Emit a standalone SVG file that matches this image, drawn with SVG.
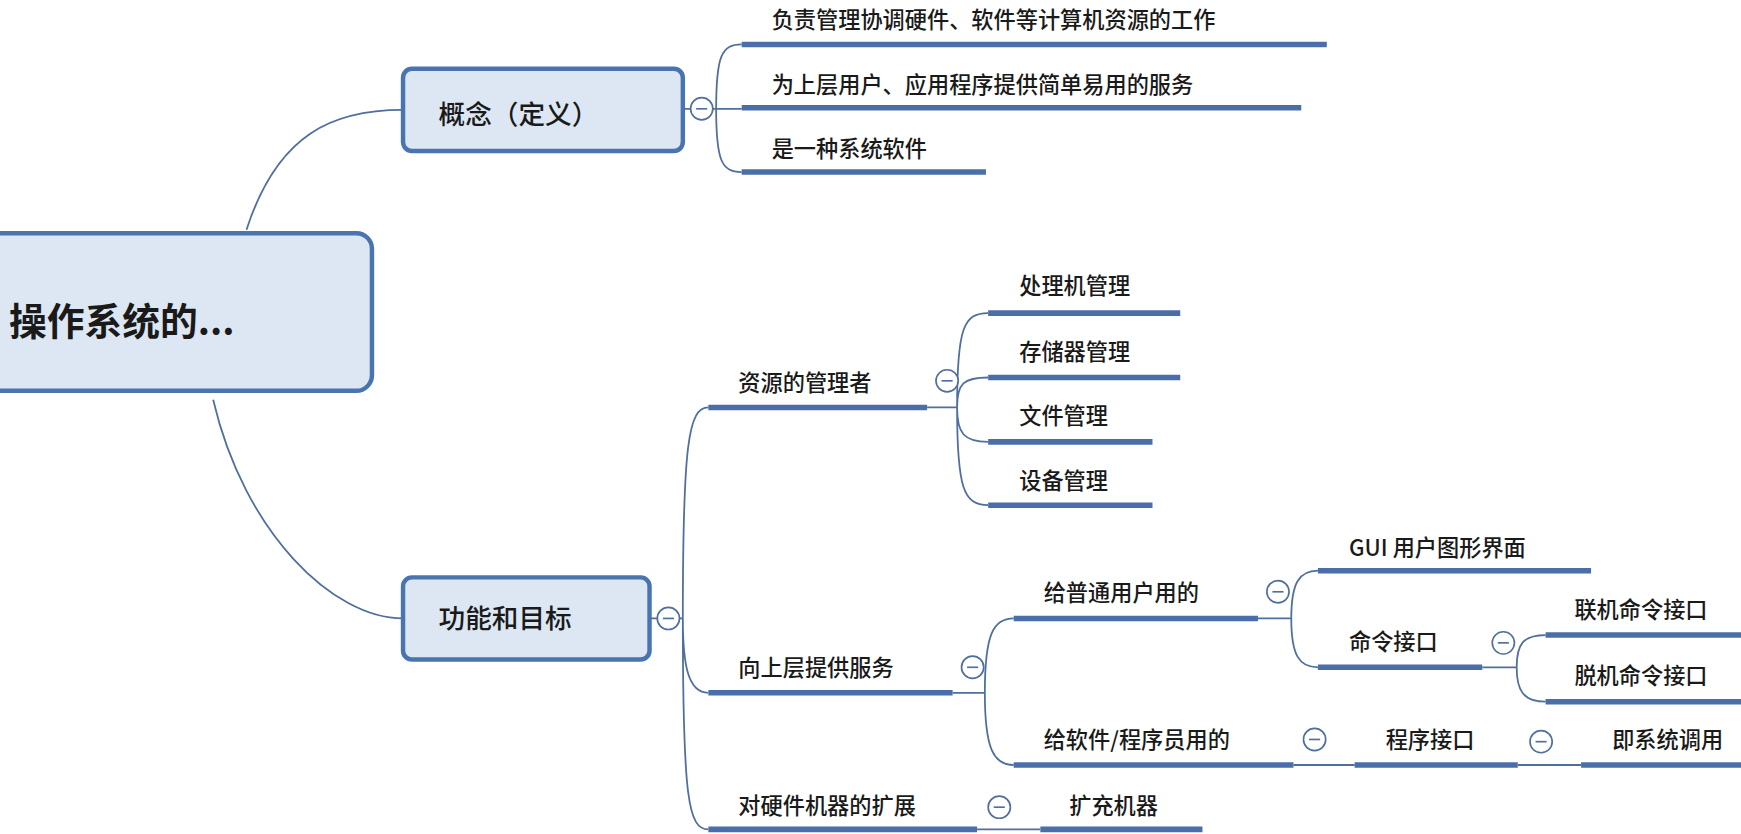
<svg xmlns="http://www.w3.org/2000/svg" width="1741" height="834" viewBox="0 0 1741 834">
<style>
text{font-family:"Noto Sans CJK SC","Liberation Sans",sans-serif;fill:#1a1a1a;font-size:20px;font-weight:500}
.u{stroke:#4a6fa8;stroke-width:5;fill:none}
.c{stroke:#4f6f9c;stroke-width:1.6;fill:none}
.box{fill:#dde7f3;stroke:#4a74b0;stroke-width:4}
.k{fill:#fff;stroke:#4f6f9c;stroke-width:1.5}
.m{stroke:#4f6f9c;stroke-width:1.5}
</style>
<rect width="1741" height="834" fill="#fff"/>
<g transform="scale(1.1103)">
<g id="connectors">
<path class="c" d="M222,207 C250,120 300,99 363,99"/>
<path class="c" d="M192,360 C220,480 300,557 363,557"/>
<path class="c" d="M615,98 H645 M645,98 C645,50 650,40 668,40 M645,98 H668 M645,98 C645,145 650,155 668,155"/>
<path class="c" d="M585,557 H615 C615,400 620,367 638,367 M615,557 C615,600 620,624 638,624 M615,557 C615,720 620,747 638,747"/>
<path class="c" d="M835,367 H862 M862,367 C862,295 868,282 890,282 M862,367 C862,345 868,340 890,340 M862,367 C862,390 868,398 890,398 M862,367 C862,440 868,455 890,455"/>
<path class="c" d="M858,624 H887 M887,624 C887,570 895,557 913,557 M887,624 C887,675 895,689 913,689"/>
<path class="c" d="M1133,557 H1163 M1163,557 C1163,525 1170,514 1187,514 M1163,557 C1163,590 1170,601 1187,601"/>
<path class="c" d="M1335,601 H1366 M1366,601 C1366,580 1372,572 1392,572 M1366,601 C1366,622 1372,632 1392,632"/>
<path class="c" d="M1165,689 H1220 M1367,689 H1424 M880,747 H937"/>
</g>
<g id="root"><rect class="box" x="-20" y="210" width="355" height="142" rx="14"/><text x="8" y="302" style="font-size:34px;font-weight:700">操作系统的...</text></g>
<g id="concept"><rect class="box" x="363" y="62" width="252" height="74" rx="8"/><text x="395" y="112" style="font-size:24px">概念（定义）</text></g>
<g id="func"><rect class="box" x="363" y="520" width="222" height="74" rx="8"/><text x="395" y="566" style="font-size:24px">功能和目标</text></g>
<g id="leaves">
<g id="n1"><path class="u" d="M668,40 H1195"/><text x="695" y="25">负责管理协调硬件、软件等计算机资源的工作</text></g>
<g id="n2"><path class="u" d="M668,97 H1172"/><text x="695" y="84">为上层用户、应用程序提供简单易用的服务</text></g>
<g id="n3"><path class="u" d="M668,155 H888"/><text x="695" y="141">是一种系统软件</text></g>
<g id="n4"><path class="u" d="M638,367 H835"/><text x="665" y="352">资源的管理者</text></g>
<g id="n5"><path class="u" d="M638,624 H858"/><text x="665" y="609">向上层提供服务</text></g>
<g id="n6"><path class="u" d="M638,747 H880"/><text x="665" y="733">对硬件机器的扩展</text></g>
<g id="n7"><path class="u" d="M890,282 H1063"/><text x="918" y="265">处理机管理</text></g>
<g id="n8"><path class="u" d="M890,340 H1063"/><text x="918" y="324">存储器管理</text></g>
<g id="n9"><path class="u" d="M890,398 H1038"/><text x="918" y="382">文件管理</text></g>
<g id="n10"><path class="u" d="M890,455 H1038"/><text x="918" y="440">设备管理</text></g>
<g id="n11"><path class="u" d="M913,557 H1133"/><text x="940" y="541">给普通用户用的</text></g>
<g id="n12"><path class="u" d="M913,689 H1165"/><text x="940" y="674">给软件/程序员用的</text></g>
<g id="n13"><path class="u" d="M1187,514 H1433"/><text x="1215" y="501">GUI 用户图形界面</text></g>
<g id="n14"><path class="u" d="M1187,601 H1335"/><text x="1215" y="585">命令接口</text></g>
<g id="n15"><path class="u" d="M1392,572 H1580"/><text x="1418" y="557">联机命令接口</text></g>
<g id="n16"><path class="u" d="M1392,632 H1580"/><text x="1418" y="616">脱机命令接口</text></g>
<g id="n17"><path class="u" d="M1220,689 H1367"/><text x="1248" y="674">程序接口</text></g>
<g id="n18"><path class="u" d="M1424,689 H1580"/><text x="1452" y="674">即系统调用</text></g>
<g id="n19"><path class="u" d="M937,747 H1083"/><text x="963" y="733">扩充机器</text></g>
</g>
<g id="toggles">
<circle class="k" cx="632" cy="98" r="10"/><path class="m" d="M627,98 H637"/>
<circle class="k" cx="602" cy="557" r="10"/><path class="m" d="M597,557 H607"/>
<circle class="k" cx="853" cy="343" r="10"/><path class="m" d="M848,343 H858"/>
<circle class="k" cx="876" cy="601" r="10"/><path class="m" d="M871,601 H881"/>
<circle class="k" cx="1151" cy="533" r="10"/><path class="m" d="M1146,533 H1156"/>
<circle class="k" cx="1354" cy="579" r="10"/><path class="m" d="M1349,579 H1359"/>
<circle class="k" cx="1184" cy="666" r="10"/><path class="m" d="M1179,666 H1189"/>
<circle class="k" cx="1388" cy="668" r="10"/><path class="m" d="M1383,668 H1393"/>
<circle class="k" cx="900" cy="727" r="10"/><path class="m" d="M895,727 H905"/>
</g>
</g>
</svg>
